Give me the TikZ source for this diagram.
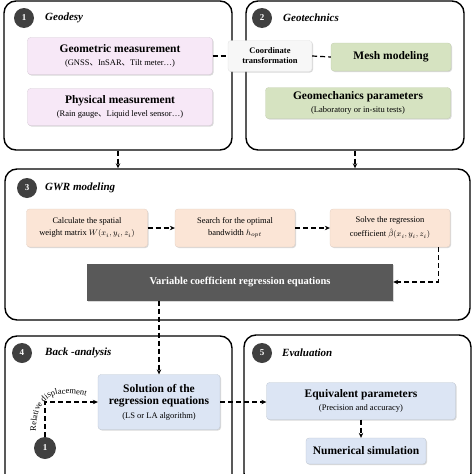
\documentclass[tikz,border=0pt]{standalone}
\usepackage{fontspec}
\setmainfont{Liberation Serif}
\newfontfamily\cjk{Noto Sans CJK SC}
\usetikzlibrary{shapes, arrows.meta, positioning, calc, shadows, decorations.text}
\definecolor{pinkfill}{RGB}{247,232,247}
\definecolor{greenfill}{RGB}{214,227,193}
\definecolor{peachfill}{RGB}{251,229,214}
\definecolor{bluefill}{RGB}{220,229,244}
\definecolor{darkfill}{RGB}{89,89,89}
\definecolor{badgefill}{RGB}{64,64,64}
\newcommand{\headsub}[2]{{\fontsize{11.5}{13}\selectfont\bfseries #1}\\[1pt]{\fontsize{8.5}{10}\selectfont #2}}
\newcommand{\sep}{{\cjk 、}}

\begin{document}
\begin{tikzpicture}[x=1pt, y=-1pt,
    frame/.style = {rectangle, draw=black, line width=1.4pt, rounded corners=12pt, inner sep=0pt},
    card/.style = {rectangle, rounded corners=3pt, inner sep=2pt, align=center,
                   drop shadow={shadow xshift=1pt, shadow yshift=-1pt, opacity=0.3}},
    pinkbox/.style = {card, fill=pinkfill, draw=pinkfill!85!black, line width=0.3pt},
    greybox/.style = {card, fill=gray!6, draw=gray!25, line width=0.3pt, font=\fontsize{8.5}{10}\selectfont\bfseries},
    greenbox/.style = {card, fill=greenfill, draw=greenfill!90!black, line width=0.3pt},
    peachbox/.style = {card, fill=peachfill, draw=peachfill!90!black, line width=0.3pt, font=\fontsize{8.5}{12}\selectfont},
    bluebox/.style = {card, fill=bluefill, draw=bluefill!85!black, line width=0.3pt},
    darkbox/.style = {card, rounded corners=0pt, fill=darkfill, text=white, font=\fontsize{10.5}{12}\selectfont\bfseries},
    badge/.style = {circle, fill=badgefill, text=white, inner sep=0pt, minimum size=20pt, font=\fontsize{9}{10}\selectfont\bfseries},
    ttl/.style = {anchor=west, inner sep=0pt, font=\fontsize{11}{13}\selectfont\bfseries\itshape},
    dline/.style = {line width=1.2pt, dash pattern=on 5pt off 3pt},
    darrow/.style = {dline, -{Stealth[length=5pt, width=4.5pt]}}
]
\useasboundingbox (0,0) rectangle (474,474);

% Frames
\node[frame, minimum width=228pt, minimum height=149pt] (geo) at (118,75.5) {};
\node[frame, minimum width=218pt, minimum height=149pt] (tech) at (355,75.5) {};
\node[frame, minimum width=465pt, minimum height=151pt] (gwr) at (237.5,244.5) {};
\node[frame, minimum width=227pt, minimum height=150pt] (back) at (118.5,411) {};
\node[frame, minimum width=227pt, minimum height=150pt] (eval) at (357.5,410) {};

% Headings
\node[badge] (b1) at (24,18) {1};
\node[ttl] (t1) at (45,18) {Geodesy};
\node[badge] (b2) at (262,18) {2};
\node[ttl] (t2) at (283,18) {Geotechnics};
\node[badge] (b3) at (27,188) {3};
\node[ttl] (t3) at (45,188) {GWR modeling};
\node[badge] (b4) at (22,353) {4};
\node[ttl] (t4) at (45,353) {Back -analysis};
\node[badge] (b5) at (262,353) {5};
\node[ttl] (t5) at (282,353) {Evaluation};

% Geodesy and geotechnics
\node[pinkbox, minimum width=185pt, minimum height=37pt] (geom) at (120,56)
  {\headsub{Geometric measurement}{(GNSS\sep InSAR\sep Tilt meter…)}};
\node[pinkbox, minimum width=185pt, minimum height=37pt] (phys) at (120,107)
  {\headsub{Physical measurement}{(Rain gauge\sep Liquid level sensor…)}};
\node[greybox, minimum width=84pt, minimum height=31pt] (coord) at (270,56) {Coordinate\\transformation};
\node[greenbox, minimum width=120pt, minimum height=28pt, font=\fontsize{11.5}{13}\selectfont\bfseries] (mesh) at (391,57) {Mesh modeling};
\node[greenbox, minimum width=185pt, minimum height=31pt] (mech) at (358,103)
  {\headsub{Geomechanics parameters}{(Laboratory or in-situ tests)}};

% GWR modeling
\node[peachbox, minimum width=121pt, minimum height=38pt] (calc) at (87,228)
  {Calculate the spatial\\weight matrix $W(x_i,y_i,z_i)$};
\node[peachbox, minimum width=120pt, minimum height=38pt] (search) at (235,228)
  {Search for the optimal\\bandwidth $h_{opt}$};
\node[peachbox, minimum width=120pt, minimum height=38pt] (solve) at (390,228)
  {Solve the regression\\[2pt]coefficient $\hat{\beta}(x_i,y_i,z_i)$};
\node[darkbox, minimum width=306pt, minimum height=37pt] (var) at (240,282) {Variable coefficient regression equations};

% Back-analysis and evaluation
\node[bluebox, minimum width=122pt, minimum height=55pt] (sol) at (159,402)
  {{\fontsize{11.5}{13}\selectfont\bfseries Solution of the}\\
   {\fontsize{11.5}{13}\selectfont\bfseries regression equations}\\[2pt]
   {\fontsize{8.5}{10}\selectfont (LS or LA algorithm)}};
\node[badge, minimum size=22pt] (b6) at (45,448) {1};
\node[bluebox, minimum width=189pt, minimum height=37pt] (equiv) at (361,401)
  {\headsub{Equivalent parameters}{(Precision and accuracy)}};
\node[bluebox, minimum width=120pt, minimum height=26pt, font=\fontsize{11.5}{13}\selectfont\bfseries] (num) at (366,451) {Numerical simulation};

% Edges
\draw[darrow] (geo.south) -- (geo.south |- gwr.north);
\draw[darrow] (tech.south) -- (tech.south |- gwr.north);
\draw[dline] (geom.east) -- (coord.west);
\draw[dline] (coord.east) -- (mesh.west);

\draw[darrow] (calc) -- (search);
\draw[darrow] (search) -- (solve);
\coordinate (turn) at ([xshift=-12pt]solve.south east);
\draw[darrow] (turn) |- (var.east);
\draw[darrow] (var.south -| sol.north) -- (sol.north);

\draw[darrow] (b6.north) |- (sol.west);
\draw[decorate, decoration={text along path, text align=left,
      text={|\fontsize{8.5}{10}\selectfont|Relative displacement}}]
  (36,431) .. controls (36,408) and (44,395) .. (62,394) .. controls (75,393) and (86,395) .. (98,400);
\draw[darrow] (sol.east) -- (equiv.west |- sol.east);
\draw[darrow] (equiv.south) -- (equiv.south |- num.north);

\end{tikzpicture}
\end{document}
